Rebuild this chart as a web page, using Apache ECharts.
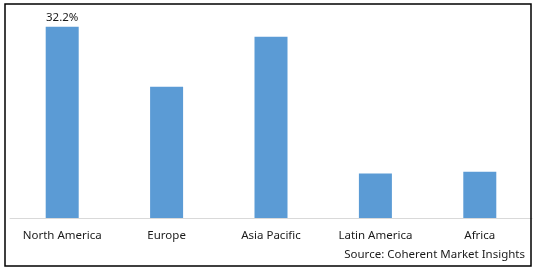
<!DOCTYPE html>
<html>
<head>
<meta charset="utf-8">
<script src="https://cdn.jsdelivr.net/npm/echarts@6/dist/echarts.min.js"></script>
<style>
html,body{margin:0;padding:0;background:#fff;}
#c{width:538px;height:272px;}
</style>
</head>
<body>
<div id="c"></div>
<script>
var categories = ['North America', 'Europe', 'Asia Pacific', 'Latin America', 'Africa'];
var values = [32.2, 22.1, 30.5, 7.5, 7.8];
var labelText = ['32.2%', '', '', '', ''];
var sourceText = 'Source: Coherent Market Insights';

var chart = echarts.init(document.getElementById('c'));
chart.setOption({
  animation: false,
  backgroundColor: '#ffffff',
  grid: { left: 10, right: 6, top: 10, bottom: 54, containLabel: false },
  xAxis: {
    type: 'category',
    data: categories,
    axisLine: { lineStyle: { color: '#d9d9d9', width: 1 } },
    axisTick: { show: false },
    axisLabel: { color: '#1a1a1a', fontFamily: 'Noto Sans', fontSize: 11.5, margin: 12, interval: 0 }
  },
  yAxis: {
    type: 'value', min: 0, max: 35,
    show: false,
    splitLine: { show: false }
  },
  series: [{
    type: 'bar',
    data: values,
    barWidth: 33,
    itemStyle: { color: '#5b9bd5' },
    label: {
      show: true, position: 'top', distance: 3,
      color: '#1a1a1a', fontFamily: 'Noto Sans', fontSize: 11.5,
      formatter: function (p) { return labelText[p.dataIndex]; }
    }
  }],
  graphic: [
    { type: 'rect', shape: { x: 5, y: 4, width: 526, height: 262 },
      style: { fill: 'none', stroke: '#000', lineWidth: 1.5 }, z: 100 },
    { type: 'text', right: 13, top: 249,
      style: { text: sourceText, fill: '#1a1a1a', font: '11.5px "Noto Sans"' } }
  ]
});
</script>
</body>
</html>
